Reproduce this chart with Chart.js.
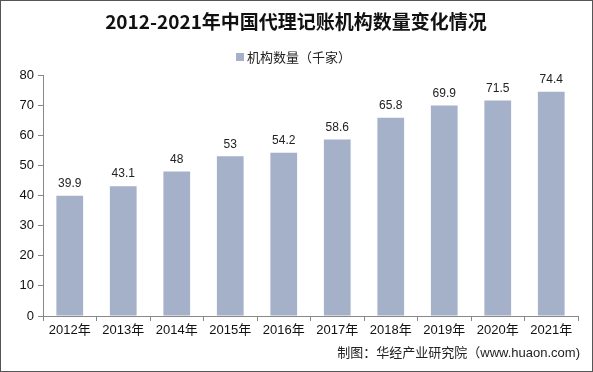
<!DOCTYPE html>
<html>
<head>
<meta charset="utf-8">
<script src="https://cdn.jsdelivr.net/npm/chart.js@4"></script>
<style>
  body { margin: 0; background: #fff; }
  #wrap { width: 593px; height: 372px; }
</style>
</head>
<body>
<div id="wrap"><canvas id="my-chart" width="593" height="372"></canvas></div>
<script>
'use strict';

let years = ['2012年', '2013年', '2014年', '2015年', '2016年', '2017年', '2018年', '2019年', '2020年', '2021年'];
let counts = [39.9, 43.1, 48, 53, 54.2, 58.6, 65.8, 69.9, 71.5, 74.4];
let yTicks = [0, 10, 20, 30, 40, 50, 60, 70, 80];

let titleText = '2012-2021年中国代理记账机构数量变化情况';
let seriesName = '机构数量（千家）';
let sourceText = '制图：华经产业研究院（www.huaon.com)';

let barColor = '#a5b0c9';
let sansFont = '"Liberation Sans", Arial, "Noto Sans CJK SC", sans-serif';

let canvasElement = document.getElementById('my-chart');

// title, legend, labels and frame drawn by hand
let decorPlugin = {
  id: 'decor',
  afterDatasetsDraw(chart) {
    let ctx = chart.ctx;
    let meta = chart.getDatasetMeta(0);
    ctx.save();
    ctx.fillStyle = '#222';
    ctx.font = '12px ' + sansFont;
    ctx.textAlign = 'center';
    ctx.textBaseline = 'bottom';
    meta.data.forEach(function(bar, i) {
      ctx.fillText(String(counts[i]), bar.x, bar.y - 6);
    });
    ctx.restore();
  },
  afterDraw(chart) {
    let ctx = chart.ctx;
    ctx.save();
    // title
    ctx.fillStyle = '#111';
    ctx.font = 'bold 19px "Noto Sans CJK SC", sans-serif';
    ctx.textAlign = 'center';
    ctx.textBaseline = 'middle';
    ctx.fillText(titleText, 296, 22);
    // legend
    ctx.fillStyle = barColor;
    ctx.fillRect(236, 53, 8, 8);
    ctx.fillStyle = '#222';
    ctx.font = '13px "Noto Sans CJK SC", sans-serif';
    ctx.textAlign = 'left';
    ctx.fillText(seriesName, 247, 57);
    // source
    ctx.font = '13px ' + sansFont;
    ctx.textAlign = 'right';
    ctx.fillText(sourceText, 580, 353);
    // frame
    ctx.strokeStyle = '#555';
    ctx.lineWidth = 1;
    ctx.strokeRect(0.5, 0.5, 592, 371);
    ctx.restore();
  }
};

let chartObj = {
  type: 'bar',
  data: {
    labels: years,
    datasets: [{
      label: seriesName,
      data: counts,
      backgroundColor: barColor,
      borderWidth: 0,
      categoryPercentage: 1,
      barPercentage: 0.5
    }]
  },
  options: {
    responsive: false,
    animation: false,
    layout: {
      padding: { top: 75, left: 0, right: 15, bottom: 0 }
    },
    plugins: {
      legend: { display: false },
      title: { display: false },
      tooltip: { enabled: false }
    },
    scales: {
      x: {
        offset: true,
        grid: {
          offset: true,
          drawOnChartArea: false,
          drawTicks: true,
          tickLength: 5,
          color: '#888'
        },
        border: { color: '#888' },
        ticks: {
          color: '#111',
          font: { size: 13, family: sansFont },
          maxRotation: 0,
          autoSkip: false,
          padding: 2
        },
        afterFit: function(scale) { scale.height = 56; }
      },
      y: {
        min: 0,
        max: 80,
        afterBuildTicks: function(scale) {
          scale.ticks = yTicks.map(function(v) { return { value: v }; });
        },
        grid: {
          drawOnChartArea: false,
          drawTicks: true,
          tickLength: 5,
          color: '#888'
        },
        border: { color: '#888' },
        ticks: {
          color: '#111',
          font: { size: 13, family: sansFont },
          padding: 4
        },
        afterFit: function(scale) { scale.width = 43; }
      }
    }
  },
  plugins: [decorPlugin]
};

new Chart(canvasElement, chartObj);//eslint-disable-line
</script>
</body>
</html>
